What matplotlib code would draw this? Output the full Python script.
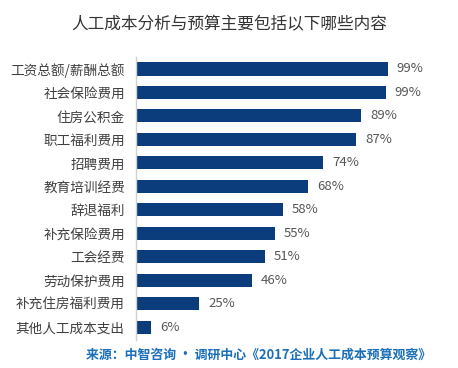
import matplotlib
matplotlib.use('Agg')
import matplotlib.pyplot as plt

plt.rcParams['font.family'] = ['Noto Sans CJK SC', 'DejaVu Sans']

categories = ['工资总额/薪酬总额', '社会保险费用', '住房公积金', '职工福利费用', '招聘费用',
              '教育培训经费', '辞退福利', '补充保险费用', '工会经费', '劳动保护费用',
              '补充住房福利费用', '其他人工成本支出']
values = [99.5, 98.8, 89, 87, 74, 68, 58, 55, 51, 46, 25, 6]
labels = ['99%', '99%', '89%', '87%', '74%', '68%', '58%', '55%', '51%', '46%', '25%', '6%']

W, H = 458, 368
fig = plt.figure(figsize=(W / 100, H / 100), dpi=100)
ax = fig.add_axes([136 / W, 1 - 340 / H, 253 / W, (340 - 57) / H])

y = list(range(len(categories)))
ax.barh(y, values, height=0.56, color='#0b3d7c')
for yi, v, lab in zip(y, values, labels):
    ax.text(v + 3.5, yi, lab, va='center', ha='left', fontsize=9.5, color='#555555')

ax.set_xlim(0, 100)
ax.set_ylim(11.55, -0.51)
ax.set_yticks(y)
ax.set_yticklabels(categories, fontsize=9.8, color='#404040')
ax.tick_params(axis='y', length=0, pad=8)
ax.set_xticks([])
for s in ['top', 'right', 'bottom']:
    ax.spines[s].set_visible(False)
ax.spines['left'].set_color('#d0d0d0')
ax.spines['left'].set_linewidth(1)

fig.text(229 / W, 1 - 25 / H, '人工成本分析与预算主要包括以下哪些内容', ha='center', va='center',
         fontsize=12, color='#333333', fontweight='medium')
fig.text(259 / W, 1 - 355 / H, '来源：中智咨询 • 调研中心《2017企业人工成本预算观察》', ha='center',
         va='center', fontsize=9.3, color='#1a6fb8', fontweight='bold')

fig.savefig('out.png', dpi=100)
